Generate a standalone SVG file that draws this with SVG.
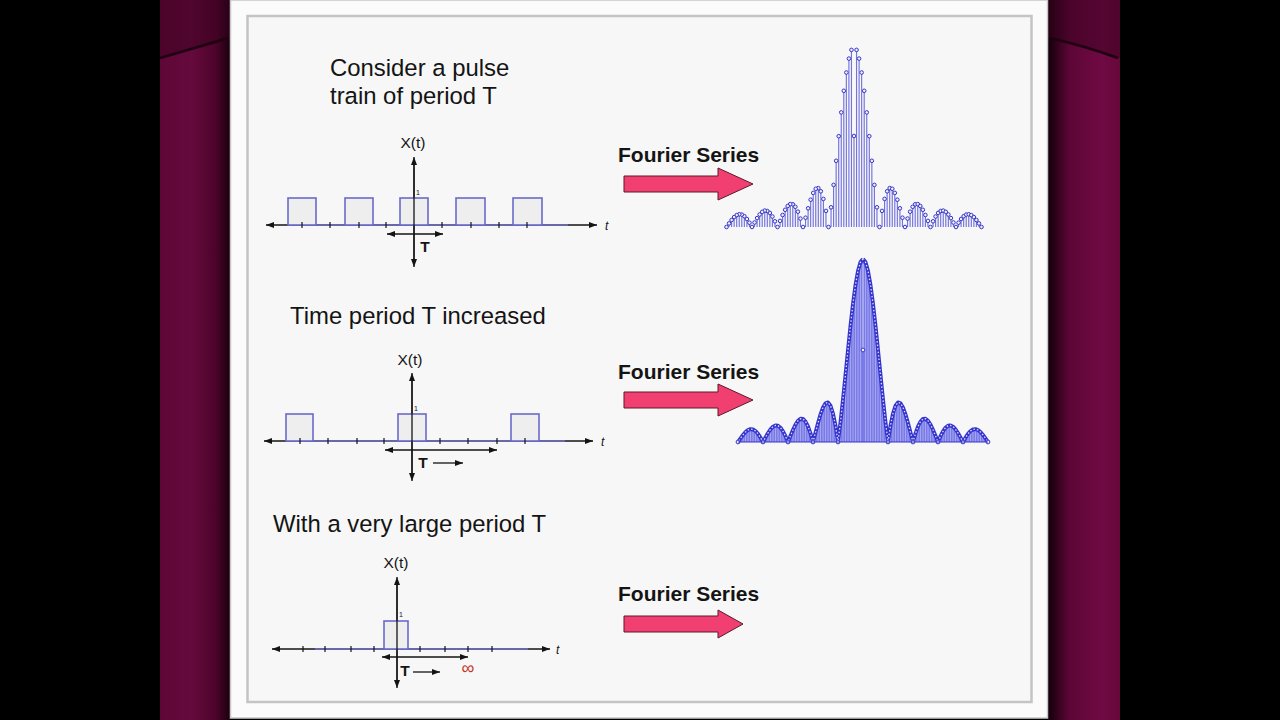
<svg xmlns="http://www.w3.org/2000/svg" width="1280" height="720" viewBox="0 0 1280 720">
<defs>
<style>
.txt{font-family:"Liberation Sans",Arial,sans-serif;fill:#141414}
.big{font-size:23.9px}
.fs{font-size:21px;font-weight:bold}
.lbl{font-size:15.5px}
.tb{font-size:15.5px;font-weight:bold}
.one{font-size:7px}
.ti{font-size:12px;font-style:italic}
.ax{stroke:#141414;stroke-width:1.3;fill:none}
.tick{stroke:#141414;stroke-width:1.2}
.sig{stroke:#6a6ac8;stroke-width:1.6;fill:#eeeeee}
.base{stroke:#7373c8;stroke-width:1.5}
.parrow{fill:#f23f72;stroke:#5a1a2a;stroke-width:1}
.stem{stroke:#7373dc;stroke-width:1.15;fill:none}
.dot{fill:#eeeeff;stroke:#3636c4;stroke-width:1}
</style>
<marker id="ah" viewBox="0 0 8 6" refX="8" refY="3" markerWidth="8" markerHeight="6" markerUnits="userSpaceOnUse" orient="auto-start-reverse">
<path d="M0,0 L8,3 L0,6 Z" fill="#141414"/>
</marker>
<linearGradient id="curL" x1="0" y1="0" x2="1" y2="0">
<stop offset="0" stop-color="#5e0736"/>
<stop offset="0.45" stop-color="#660a3d"/>
<stop offset="0.8" stop-color="#4c042a"/>
<stop offset="1" stop-color="#1a000e"/>
</linearGradient>
<linearGradient id="curR" x1="0" y1="0" x2="1" y2="0">
<stop offset="0" stop-color="#12000a"/>
<stop offset="0.3" stop-color="#5c0636"/>
<stop offset="0.75" stop-color="#700a44"/>
<stop offset="1" stop-color="#66083a"/>
</linearGradient>
</defs>

<!-- background -->
<rect x="0" y="0" width="1280" height="720" fill="#000"/>
<rect x="160" y="0" width="70" height="720" fill="url(#curL)"/>
<path d="M160,0 H230 V40 L160,58 Z" fill="#3a0220" opacity="0.5"/>
<path d="M160,58 Q195,48 228,38" stroke="#1e0012" stroke-width="2.5" fill="none"/>
<rect x="1048" y="0" width="72" height="720" fill="url(#curR)"/>
<path d="M1048,0 H1120 V58 L1048,38 Z" fill="#3a0220" opacity="0.5"/>
<path d="M1050,38 Q1085,46 1118,58" stroke="#1e0012" stroke-width="2.5" fill="none"/>

<!-- slide frame -->
<rect x="230.5" y="0" width="817" height="718" fill="#fbfbfb" stroke="#c8c8c8" stroke-width="1.5"/>
<rect x="247.5" y="16" width="784" height="686" fill="#f7f7f7" stroke="#c4c4c4" stroke-width="2.5"/>

<!-- texts -->
<g id="title1">
<text class="txt big" x="330" y="76">Consider a pulse</text>
<text class="txt big" x="330" y="104">train of period T</text>
</g>
<text id="title2" class="txt big" x="290" y="324">Time period T increased</text>
<text id="title3" class="txt big" x="273" y="532">With a very large period T</text>

<!-- plot 1 -->
<g id="plot1">
<line class="ax" x1="266" y1="225" x2="597" y2="225" marker-start="url(#ah)" marker-end="url(#ah)"/>
<line class="ax" x1="414" y1="157" x2="414" y2="267" marker-start="url(#ah)" marker-end="url(#ah)"/>
<line class="base" x1="288" y1="225" x2="568" y2="225"/>
<rect class="sig" x="288" y="198" width="28" height="27"/>
<rect class="sig" x="345" y="198" width="28" height="27"/>
<rect class="sig" x="400" y="198" width="28" height="27"/>
<rect class="sig" x="456" y="198" width="29" height="27"/>
<rect class="sig" x="513" y="198" width="29" height="27"/>
<line class="ax" x1="414" y1="160" x2="414" y2="264"/>
<path class="tick" d="M302,222V228M330,222V228M359,222V228M386,222V228M442,222V228M471,222V228M499,222V228M527,222V228"/>
<line class="ax" x1="387" y1="234" x2="443" y2="234" marker-start="url(#ah)" marker-end="url(#ah)"/>
<text class="txt one" x="416" y="195">1</text>
<text class="txt lbl" x="413" y="148" text-anchor="middle">X(t)</text>
<text class="txt tb" x="425" y="252" text-anchor="middle">T</text>
<text class="txt ti" x="605" y="230">t</text>
</g>

<!-- plot 2 -->
<g id="plot2">
<line class="ax" x1="264" y1="441" x2="593" y2="441" marker-start="url(#ah)" marker-end="url(#ah)"/>
<line class="ax" x1="412" y1="373" x2="412" y2="481" marker-start="url(#ah)" marker-end="url(#ah)"/>
<line class="base" x1="286" y1="441" x2="565" y2="441"/>
<rect class="sig" x="286" y="414" width="27" height="27"/>
<rect class="sig" x="398" y="414" width="28" height="27"/>
<rect class="sig" x="511" y="414" width="28" height="27"/>
<line class="ax" x1="412" y1="376" x2="412" y2="478"/>
<path class="tick" d="M300,438V444M328,438V444M357,438V444M384,438V444M440,438V444M468,438V444M497,438V444M525,438V444"/>
<line class="ax" x1="385" y1="450" x2="497" y2="450" marker-start="url(#ah)" marker-end="url(#ah)"/>
<line class="ax" x1="433" y1="463" x2="463" y2="463" marker-end="url(#ah)"/>
<text class="txt one" x="414" y="411">1</text>
<text class="txt lbl" x="410" y="365" text-anchor="middle">X(t)</text>
<text class="txt tb" x="423" y="468" text-anchor="middle">T</text>
<text class="txt ti" x="601" y="446">t</text>
</g>

<!-- plot 3 -->
<g id="plot3">
<line class="ax" x1="272" y1="649" x2="550" y2="649" marker-start="url(#ah)" marker-end="url(#ah)"/>
<line class="ax" x1="397" y1="577" x2="397" y2="688" marker-start="url(#ah)" marker-end="url(#ah)"/>
<line class="base" x1="315" y1="649" x2="528" y2="649"/>
<rect class="sig" x="384" y="621" width="24" height="28"/>
<line class="ax" x1="397" y1="580" x2="397" y2="685"/>
<path class="tick" d="M303,646V652M325,646V652M351,646V652M374,646V652M420,646V652M445,646V652M468,646V652M492,646V652"/>
<line class="ax" x1="382" y1="657" x2="468" y2="657" marker-start="url(#ah)" marker-end="url(#ah)"/>
<line class="ax" x1="413" y1="672" x2="440" y2="672" marker-end="url(#ah)"/>
<text class="txt one" x="399" y="617">1</text>
<text class="txt lbl" x="396" y="568" text-anchor="middle">X(t)</text>
<text class="txt tb" x="405" y="676" text-anchor="middle">T</text>
<text class="txt" x="468" y="674" font-size="18" style="fill:#c8321e" text-anchor="middle">∞</text>
<text class="txt ti" x="556" y="654">t</text>
</g>

<!-- Fourier Series labels and arrows -->
<g id="fs1">
<text class="txt fs" x="618" y="162">Fourier Series</text>
<polygon class="parrow" points="624,176 718,176 718,168 753,184 718,200 718,192 624,192"/>
</g>
<g id="fs2">
<text class="txt fs" x="618" y="379">Fourier Series</text>
<polygon class="parrow" points="624,392 718,392 718,384 753,400 718,416 718,408 624,408"/>
</g>
<g id="fs3">
<text class="txt fs" x="618" y="601">Fourier Series</text>
<polygon class="parrow" points="624,616 718,616 718,610 743,624 718,638 718,632 624,632"/>
</g>

<!-- spectrum 1 -->
<g id="spectrum1" transform="translate(854,227)">
<g id="s1half">
<path class="stem" d="M2.55 0V-177.1M5.1 0V-168.4M7.65 0V-154.5M10.2 0V-136.2M12.75 0V-114.6M15.3 0V-90.8M17.85 0V-66.2M20.4 0V-42.1M22.95 0V-19.7M28.05 0V-16.1M30.6 0V-28.1M33.15 0V-35.7M35.7 0V-38.9M38.25 0V-38.2M40.8 0V-34.1M43.35 0V-27.3M45.9 0V-18.7M48.45 0V-9.3M53.55 0V-8.4M56.1 0V-15.3M58.65 0V-20.2M61.2 0V-22.7M63.75 0V-22.9M66.3 0V-21M68.85 0V-17.2M71.4 0V-12M73.95 0V-6.1M79.05 0V-5.7M81.6 0V-10.5M84.15 0V-14.1M86.7 0V-16M89.25 0V-16.4M91.8 0V-15.1M94.35 0V-12.5M96.9 0V-8.9M99.45 0V-4.5M104.55 0V-4.3M107.1 0V-8M109.65 0V-10.8M112.2 0V-12.4M114.75 0V-12.7M117.3 0V-11.9M119.85 0V-9.9M122.4 0V-7M124.95 0V-3.6"/>
<g class="dot">
<circle cx="2.55" cy="-177.1" r="1.8"/><circle cx="5.1" cy="-168.4" r="1.8"/><circle cx="7.65" cy="-154.5" r="1.8"/><circle cx="10.2" cy="-136.2" r="1.8"/><circle cx="12.75" cy="-114.6" r="1.8"/><circle cx="15.3" cy="-90.8" r="1.8"/><circle cx="17.85" cy="-66.2" r="1.8"/><circle cx="20.4" cy="-42.1" r="1.8"/><circle cx="22.95" cy="-19.7" r="1.8"/><circle cx="25.5" cy="0" r="1.8"/>
<circle cx="28.05" cy="-16.1" r="1.8"/><circle cx="30.6" cy="-28.1" r="1.8"/><circle cx="33.15" cy="-35.7" r="1.8"/><circle cx="35.7" cy="-38.9" r="1.8"/><circle cx="38.25" cy="-38.2" r="1.8"/><circle cx="40.8" cy="-34.1" r="1.8"/><circle cx="43.35" cy="-27.3" r="1.8"/><circle cx="45.9" cy="-18.7" r="1.8"/><circle cx="48.45" cy="-9.3" r="1.8"/><circle cx="51" cy="0" r="1.8"/>
<circle cx="53.55" cy="-8.4" r="1.8"/><circle cx="56.1" cy="-15.3" r="1.8"/><circle cx="58.65" cy="-20.2" r="1.8"/><circle cx="61.2" cy="-22.7" r="1.8"/><circle cx="63.75" cy="-22.9" r="1.8"/><circle cx="66.3" cy="-21" r="1.8"/><circle cx="68.85" cy="-17.2" r="1.8"/><circle cx="71.4" cy="-12" r="1.8"/><circle cx="73.95" cy="-6.1" r="1.8"/><circle cx="76.5" cy="0" r="1.8"/>
<circle cx="79.05" cy="-5.7" r="1.8"/><circle cx="81.6" cy="-10.5" r="1.8"/><circle cx="84.15" cy="-14.1" r="1.8"/><circle cx="86.7" cy="-16" r="1.8"/><circle cx="89.25" cy="-16.4" r="1.8"/><circle cx="91.8" cy="-15.1" r="1.8"/><circle cx="94.35" cy="-12.5" r="1.8"/><circle cx="96.9" cy="-8.9" r="1.8"/><circle cx="99.45" cy="-4.5" r="1.8"/><circle cx="102" cy="0" r="1.8"/>
<circle cx="104.55" cy="-4.3" r="1.8"/><circle cx="107.1" cy="-8" r="1.8"/><circle cx="109.65" cy="-10.8" r="1.8"/><circle cx="112.2" cy="-12.4" r="1.8"/><circle cx="114.75" cy="-12.7" r="1.8"/><circle cx="117.3" cy="-11.9" r="1.8"/><circle cx="119.85" cy="-9.9" r="1.8"/><circle cx="122.4" cy="-7" r="1.8"/><circle cx="124.95" cy="-3.6" r="1.8"/><circle cx="127.5" cy="0" r="1.8"/>
</g>
</g>
<use href="#s1half" transform="scale(-1,1)"/>
<line class="stem" x1="0" y1="0" x2="0" y2="-91"/>
<circle class="dot" cx="0" cy="-91" r="1.8"/>
</g>

<!-- spectrum 2 -->
<g id="spectrum2" transform="translate(863,442)">
<g id="s2half">
<path d="M0 0V-183L2.5 -180L5 -171.2L7.5 -157.1L10 -138.5L12.5 -116.5L15 -92.3L17.5 -67.3L20 -42.8L22.5 -20L25 0L27.5 -16.4L30 -28.5L32.5 -36.3L35 -39.6L37.5 -38.8L40 -34.6L42.5 -27.7L45 -19L47.5 -9.5L50 0L52.5 -8.6L55 -15.6L57.5 -20.5L60 -23.1L62.5 -23.3L65 -21.3L67.5 -17.5L70 -12.2L72.5 -6.2L75 0L77.5 -5.8L80 -10.7L82.5 -14.3L85 -16.3L87.5 -16.6L90 -15.4L92.5 -12.7L95 -9L97.5 -4.6L100 0L102.5 -4.4L105 -8.2L107.5 -11L110 -12.6L112.5 -12.9L115 -12L117.5 -10L120 -7.1L122.5 -3.7L125 0Z" fill="#7a7ae8" stroke="none"/>
<path d="M2.5 0V-176M5 0V-167M7.5 0V-153M10 0V-134M12.5 0V-112M15 0V-88M17.5 0V-63M20 0V-39M22.5 0V-17M27.5 0V-13M30 0V-25M32.5 0V-33M35 0V-36M37.5 0V-35M40 0V-31M42.5 0V-24M45 0V-16M47.5 0V-7M52.5 0V-6M55 0V-13M57.5 0V-18M60 0V-20M62.5 0V-20M65 0V-18M67.5 0V-15M70 0V-10M77.5 0V-4M80 0V-8M82.5 0V-12M85 0V-14M87.5 0V-14M90 0V-13M92.5 0V-10M95 0V-7M102.5 0V-2M105 0V-6M107.5 0V-9M110 0V-10M112.5 0V-11M115 0V-10M117.5 0V-8M120 0V-5" stroke="#b8b8f4" stroke-width="0.7" fill="none"/>
<path d="M0 -183L2.5 -180L5 -171.2L7.5 -157.1L10 -138.5L12.5 -116.5L15 -92.3L17.5 -67.3L20 -42.8L22.5 -20L25 0L27.5 -16.4L30 -28.5L32.5 -36.3L35 -39.6L37.5 -38.8L40 -34.6L42.5 -27.7L45 -19L47.5 -9.5L50 0L52.5 -8.6L55 -15.6L57.5 -20.5L60 -23.1L62.5 -23.3L65 -21.3L67.5 -17.5L70 -12.2L72.5 -6.2L75 0L77.5 -5.8L80 -10.7L82.5 -14.3L85 -16.3L87.5 -16.6L90 -15.4L92.5 -12.7L95 -9L97.5 -4.6L100 0L102.5 -4.4L105 -8.2L107.5 -11L110 -12.6L112.5 -12.9L115 -12L117.5 -10L120 -7.1L122.5 -3.7L125 0" fill="none" stroke="#3434cc" stroke-width="3.8" stroke-linejoin="round"/>
<path d="M0 -183L2.5 -180L5 -171.2L7.5 -157.1L10 -138.5L12.5 -116.5L15 -92.3L17.5 -67.3L20 -42.8L22.5 -20L25 0L27.5 -16.4L30 -28.5L32.5 -36.3L35 -39.6L37.5 -38.8L40 -34.6L42.5 -27.7L45 -19L47.5 -9.5L50 0L52.5 -8.6L55 -15.6L57.5 -20.5L60 -23.1L62.5 -23.3L65 -21.3L67.5 -17.5L70 -12.2L72.5 -6.2L75 0L77.5 -5.8L80 -10.7L82.5 -14.3L85 -16.3L87.5 -16.6L90 -15.4L92.5 -12.7L95 -9L97.5 -4.6L100 0L102.5 -4.4L105 -8.2L107.5 -11L110 -12.6L112.5 -12.9L115 -12L117.5 -10L120 -7.1L122.5 -3.7L125 0" fill="none" stroke="#dcdcff" stroke-width="1.3" stroke-dasharray="1.5 2"/>
<g class="dot">
<circle cx="25" cy="0" r="1.9"/><circle cx="50" cy="0" r="1.9"/><circle cx="75" cy="0" r="1.9"/><circle cx="100" cy="0" r="1.9"/><circle cx="125" cy="0" r="1.9"/>
</g>
</g>
<use href="#s2half" transform="scale(-1,1)"/>
<line x1="0" y1="-178" x2="0" y2="-92" stroke="#d0d0fa" stroke-width="1"/>
<circle class="dot" cx="0" cy="-92" r="1.9"/>
<line x1="-125" y1="0" x2="125" y2="0" stroke="#3434cc" stroke-width="1"/>
</g>
</svg>
